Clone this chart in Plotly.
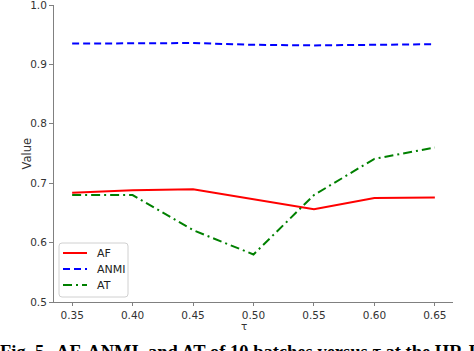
import plotly.graph_objects as go

tau = [0.35, 0.40, 0.45, 0.50, 0.55, 0.60, 0.65]
af = [0.684, 0.688, 0.690, 0.673, 0.656, 0.675, 0.676]
anmi = [0.935, 0.935, 0.936, 0.933, 0.932, 0.933, 0.934]
at = [0.680, 0.680, 0.621, 0.580, 0.680, 0.741, 0.760]

x_ticks = [0.35, 0.40, 0.45, 0.50, 0.55, 0.60, 0.65]
x_ticklabels = ["0.35", "0.40", "0.45", "0.50", "0.55", "0.60", "0.65"]
y_ticks = [0.5, 0.6, 0.7, 0.8, 0.9, 1.0]
y_ticklabels = ["0.5", "0.6", "0.7", "0.8", "0.9", "1.0"]

series_names = ["AF", "ANMI", "AT"]
series_colors = ["#ff0000", "#0000ff", "#008000"]
series_dash = ["solid", "7px,4px", "9px,4px,2px,4px"]

caption = "Fig. 5.\u2009 AF, ANMI, and AT of 10 batches versus \u03c4 at the HR-BS dataset."

# plot area in pixels
L, R, T, B = 54, 21, 5, 49
W, H = 474, 351
PW, PH = W - L - R, H - T - B


def px(X):
    return (X - L) / PW


def py(Y):
    return (H - B - Y) / PH


fig = go.Figure()
for name, vals, col, dash in zip(series_names, [af, anmi, at], series_colors, series_dash):
    fig.add_trace(go.Scatter(x=tau, y=vals, mode="lines", name=name, showlegend=False,
                             line=dict(color=col, width=2, dash=dash)))

axis_common = dict(
    showgrid=False, zeroline=False, showline=True, linecolor="#808080", linewidth=1,
    ticks="outside", tickcolor="#808080", tickwidth=1,
    tickfont=dict(family="DejaVu Sans", size=10.5, color="#333333"),
    ticklabeloverflow="allow", automargin=False,
)

# rounded legend frame
x0, x1, y0, y1, r = 59, 128, 243, 297, 3
frame = (f"M {px(x0 + r)} {py(y0)} L {px(x1 - r)} {py(y0)} Q {px(x1)} {py(y0)} {px(x1)} {py(y0 + r)} "
         f"L {px(x1)} {py(y1 - r)} Q {px(x1)} {py(y1)} {px(x1 - r)} {py(y1)} "
         f"L {px(x0 + r)} {py(y1)} Q {px(x0)} {py(y1)} {px(x0)} {py(y1 - r)} "
         f"L {px(x0)} {py(y0 + r)} Q {px(x0)} {py(y0)} {px(x0 + r)} {py(y0)} Z")
shapes = [dict(type="path", xref="paper", yref="paper", path=frame,
               line=dict(color="#d0d0d0", width=1), fillcolor="rgba(255,255,255,0.85)",
               layer="above")]
annotations = []
for i, (name, col, dash) in enumerate(zip(series_names, series_colors, series_dash)):
    yy = 253 + 16 * i
    shapes.append(dict(type="line", xref="paper", yref="paper",
                       x0=px(63), x1=px(87), y0=py(yy), y1=py(yy),
                       line=dict(color=col, width=2, dash=dash), layer="above"))
    annotations.append(dict(text=name, xref="paper", yref="paper", x=px(95), y=py(yy),
                            xanchor="left", yanchor="middle", showarrow=False,
                            font=dict(family="DejaVu Sans", size=11, color="#222222")))

annotations.append(dict(text="\u03c4", xref="paper", yref="paper", x=px(243.5), y=py(325.5),
                        xanchor="center", yanchor="middle", showarrow=False, borderpad=0,
                        font=dict(family="DejaVu Sans", size=10.5, color="#333333")))
annotations.append(dict(text="Value", xref="paper", yref="paper", x=px(26), y=0.5,
                        xanchor="center", yanchor="middle", showarrow=False, textangle=-90,
                        font=dict(family="DejaVu Sans", size=11.5, color="#333333")))
annotations.append(dict(text="<b>" + caption + "</b>", xref="paper", yref="paper",
                        x=px(-2), y=py(352), xanchor="left", yanchor="middle",
                        showarrow=False,
                        font=dict(family="Liberation Serif", size=18.5, color="black")))

fig.update_layout(
    width=W, height=H,
    margin=dict(l=L, r=R, t=T, b=B),
    paper_bgcolor="white", plot_bgcolor="white",
    font=dict(family="DejaVu Sans", color="#333333"),
    xaxis=dict(range=[0.335, 0.665], tickvals=x_ticks, ticktext=x_ticklabels,
               ticklen=3, **axis_common),
    yaxis=dict(range=[0.5, 1.0], tickvals=y_ticks, ticktext=y_ticklabels,
               ticklen=4, **axis_common),
    showlegend=False,
    shapes=shapes,
    annotations=annotations,
)

fig.write_html("out.html")
